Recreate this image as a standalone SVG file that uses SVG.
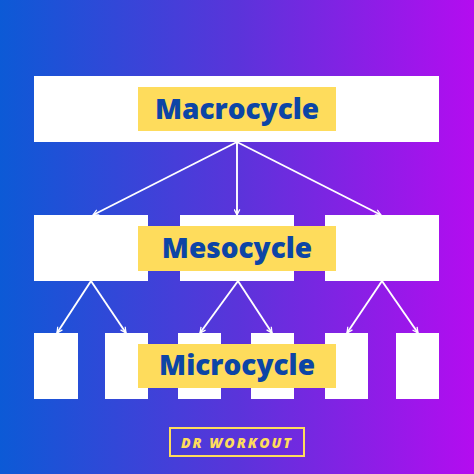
<svg xmlns="http://www.w3.org/2000/svg" width="474" height="474" viewBox="0 0 474 474">
<defs>
<linearGradient id="bg" x1="0" y1="0" x2="1" y2="0">
<stop offset="0" stop-color="#0c5ad6"/>
<stop offset="0.5" stop-color="#5a34da"/>
<stop offset="1" stop-color="#b40cf0"/>
</linearGradient>
<marker id="ah" viewBox="0 0 10 10" refX="9" refY="5" markerWidth="7" markerHeight="7" markerUnits="userSpaceOnUse" orient="auto">
<path d="M1,1 L9,5 L1,9" fill="none" stroke="#ffffff" stroke-width="1.8"/>
</marker>
</defs>
<style>
.box{fill:#ffffff}
.lab{fill:#fedc5c}
.t{font-family:"Open Sans","Liberation Sans",sans-serif;font-weight:800;fill:#0c45a6;text-anchor:middle}
.c{stroke:#ffffff;stroke-width:1.9;fill:none;marker-end:url(#ah)}
</style>
<rect width="474" height="474" fill="url(#bg)"/>
<g id="connectors">
<line class="c" x1="237" y1="142" x2="93" y2="215"/>
<line class="c" x1="237" y1="142" x2="237" y2="215"/>
<line class="c" x1="237" y1="142" x2="381" y2="215"/>
<line class="c" x1="91" y1="281" x2="57" y2="333"/>
<line class="c" x1="91" y1="281" x2="126" y2="333"/>
<line class="c" x1="238" y1="281" x2="200" y2="333"/>
<line class="c" x1="238" y1="281" x2="272" y2="333"/>
<line class="c" x1="382" y1="281" x2="347" y2="333"/>
<line class="c" x1="382" y1="281" x2="418" y2="333"/>
</g>
<g id="macrocycle">
<rect class="box" x="34" y="76" width="405" height="66"/>
<rect class="lab" x="138" y="87" width="198" height="44"/>
<text class="t" x="237" y="119" font-size="28">Macrocycle</text>
</g>
<g id="mesocycle">
<rect class="box" x="34" y="215" width="114" height="66"/>
<rect class="box" x="180" y="215" width="114" height="66"/>
<rect class="box" x="325" y="215" width="114" height="66"/>
<rect class="lab" x="138" y="226" width="198" height="45"/>
<text class="t" x="237" y="258" font-size="28">Mesocycle</text>
</g>
<g id="microcycle">
<rect class="box" x="34" y="333" width="44" height="66"/>
<rect class="box" x="105" y="333" width="43" height="66"/>
<rect class="box" x="178" y="333" width="43" height="66"/>
<rect class="box" x="251" y="333" width="43" height="66"/>
<rect class="box" x="325" y="333" width="43" height="66"/>
<rect class="box" x="396" y="333" width="43" height="66"/>
<rect class="lab" x="138" y="344" width="198" height="44"/>
<text class="t" x="237" y="375" font-size="28">Microcycle</text>
</g>
<g id="brand">
<rect x="170" y="428" width="134" height="28" fill="none" stroke="#fedc5c" stroke-width="2"/>
<text x="237" y="448" font-family="'Open Sans','Liberation Sans',sans-serif" font-weight="800" font-style="italic" font-size="14" letter-spacing="2" fill="#fedc5c" text-anchor="middle">DR WORKOUT</text>
</g>
</svg>
